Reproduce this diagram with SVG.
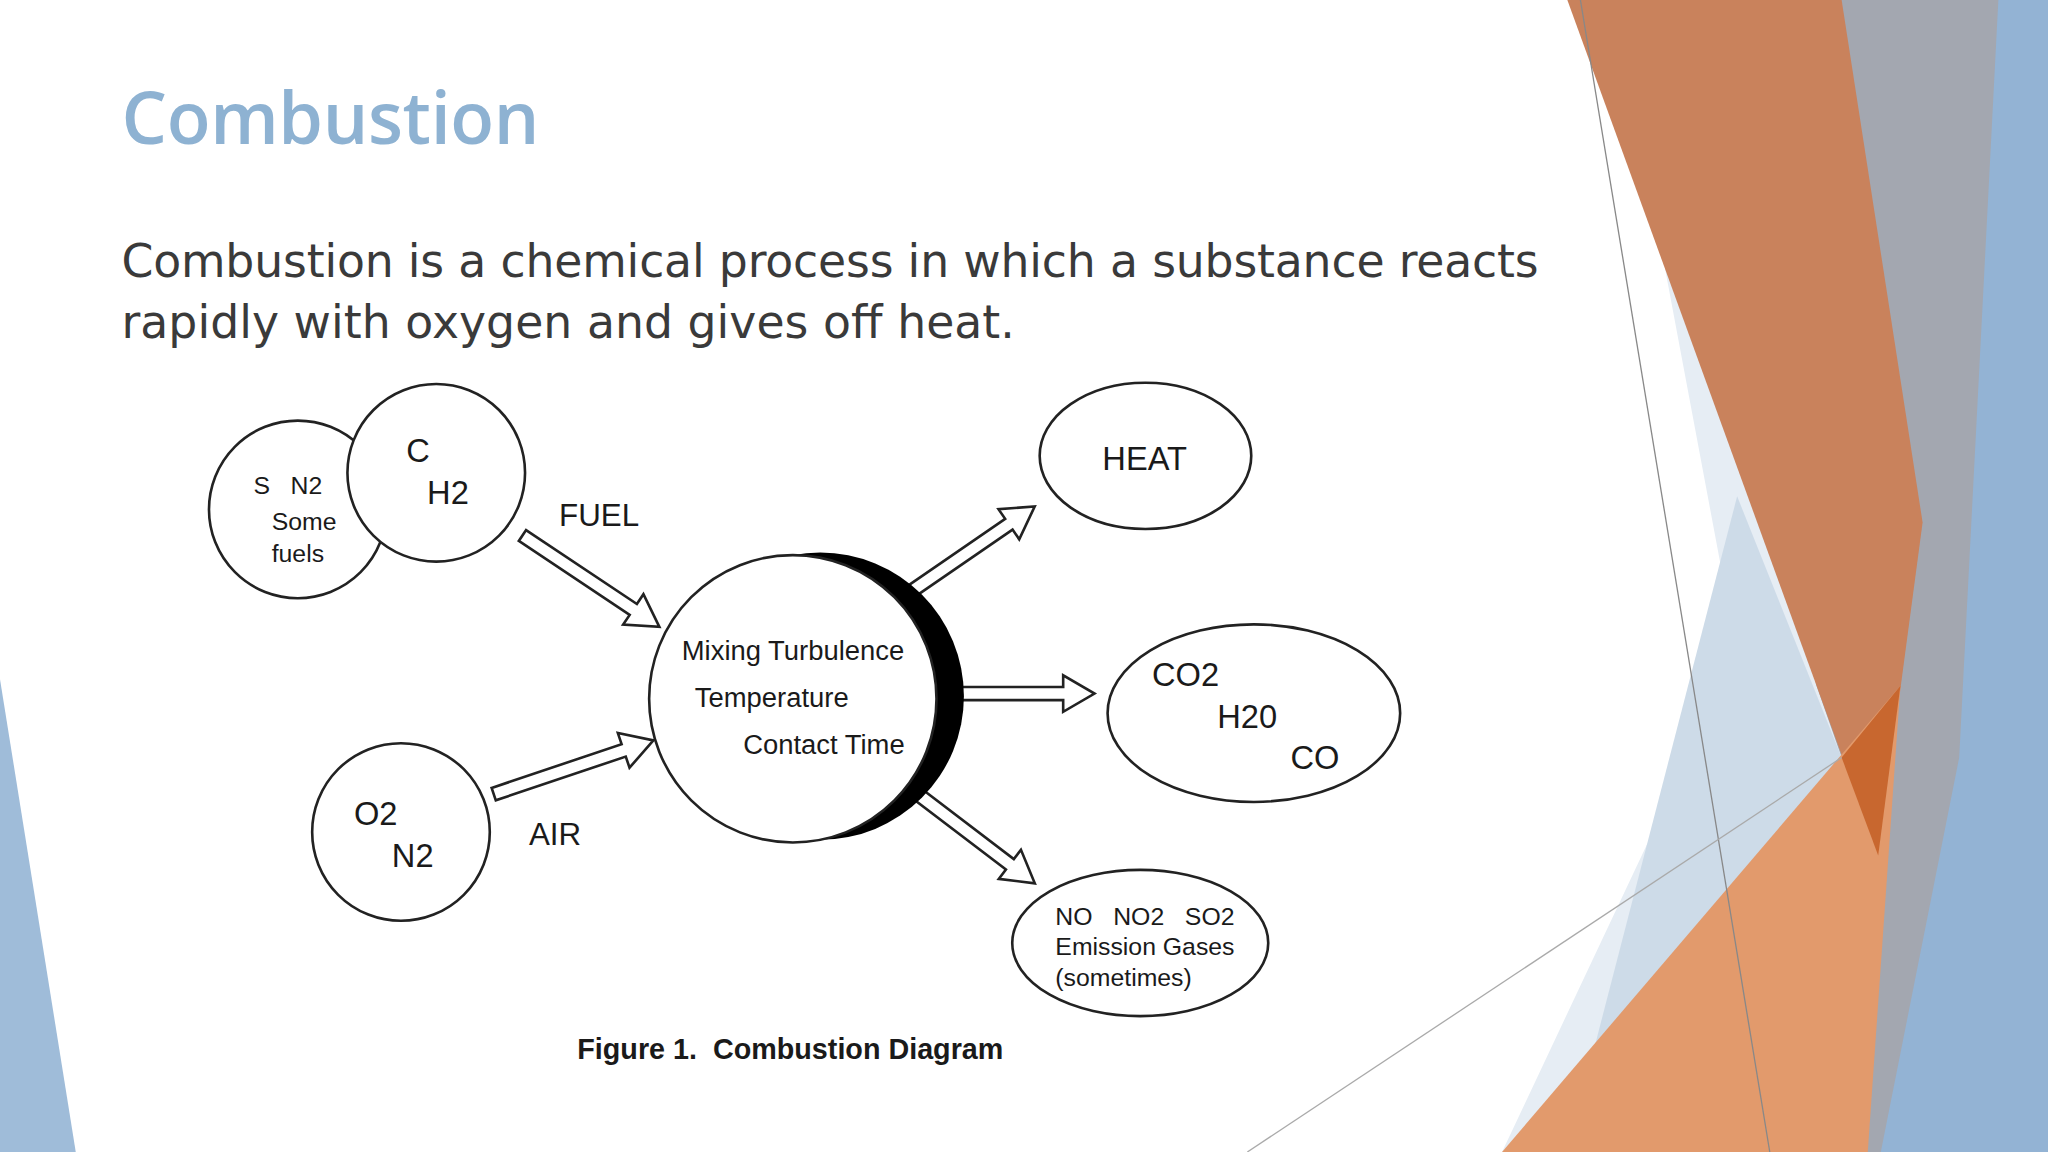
<svg xmlns="http://www.w3.org/2000/svg" width="2048" height="1152" viewBox="0 0 2048 1152">
<style>
.d{font-family:"Liberation Sans",Arial,sans-serif;fill:#1a1a1a}
.n{fill:#fff;stroke:#222;stroke-width:2}
.a{fill:#fff;stroke:#222;stroke-width:2;stroke-linejoin:miter}
</style>
<rect width="2048" height="1152" fill="#fff"/>
<g transform="scale(1.30612)">
<g id="decor">
<polygon points="1405,0 1568,0 1568,882 1380,882" fill="#a3a7b0"/>
<polygon points="1530,0 1568,0 1568,882 1440,882 1500,580" fill="#93b3d4"/>
<polygon points="1270,180 1410,580 1200,882 1150,882 1330,500" fill="#e6edf4"/>
<polygon points="1330,380 1410,580 1240,882 1200,882" fill="#cddbe8"/>
<polygon points="1200,0 1410,0 1472,400 1438,655" fill="#c9825c"/>
<polygon points="1455,525 1430,882 1150,882" fill="#e29a6c"/>
<polygon points="1455,525 1438,655 1410,580" fill="#c8672f"/>
<polygon points="0,520 58,882 0,882" fill="#9fbcd9"/>
<line x1="1210" y1="0" x2="1355" y2="882" stroke="#888" stroke-width="1"/>
<line x1="955" y1="882" x2="1410" y2="580" stroke="#aaa" stroke-width="1"/>
</g>
<text x="93" y="110" font-family="'Open Sans',sans-serif" font-weight="600" font-size="55" fill="#8eb2d2" textLength="320">Combustion</text>
<text font-family="'DejaVu Sans',sans-serif" font-size="35" fill="#3a3a3a"><tspan x="93" y="212" textLength="1085">Combustion is a chemical process in which a substance reacts</tspan><tspan x="93" y="259" textLength="684">rapidly with oxygen and gives off heat.</tspan></text>
<g id="connectors">
<polygon class="a" transform="translate(400,410) rotate(33.7)" points="0,-5 102,-5 102,-14 126,0 102,14 102,5 0,5"/>
<polygon class="a" transform="translate(378,608) rotate(-18.6)" points="0,-5 105,-5 105,-14 129,0 105,14 105,5 0,5"/>
<polygon class="a" transform="translate(690,458) rotate(-34.5)" points="0,-5 100,-5 100,-14 124,0 100,14 100,5 0,5"/>
<polygon class="a" transform="translate(718,531)" points="0,-5 96,-5 96,-14 120,0 96,14 96,5 0,5"/>
<polygon class="a" transform="translate(700,606) rotate(37.3)" points="0,-5 92,-5 92,-14 116,0 92,14 92,5 0,5"/>
</g>
<g id="fuels"><circle class="n" cx="228" cy="390" r="68"/>
<text class="d" font-size="19"><tspan x="194" y="378">S&#160;&#160; N2</tspan><tspan x="208" y="406">Some</tspan><tspan x="208" y="430">fuels</tspan></text></g>
<g id="ch2"><circle class="n" cx="334" cy="362" r="68"/>
<text class="d" font-size="25"><tspan x="311" y="354">C</tspan><tspan x="327" y="386">H2</tspan></text></g>
<text class="d" x="428" y="403" font-size="24">FUEL</text>
<g id="air"><circle class="n" cx="307" cy="637" r="68"/>
<text class="d" font-size="25"><tspan x="271" y="632">O2</tspan><tspan x="300" y="664">N2</tspan></text></g>
<text class="d" x="405" y="647" font-size="24">AIR</text>
<g id="main"><circle cx="628" cy="533" r="110" fill="#000"/>
<circle class="n" cx="607" cy="535" r="110"/>
<text class="d" font-size="21"><tspan x="522" y="505">Mixing Turbulence</tspan><tspan x="532" y="541">Temperature</tspan><tspan x="569" y="577">Contact Time</tspan></text></g>
<g id="heat"><ellipse class="n" cx="877" cy="349" rx="81" ry="56"/>
<text class="d" x="844" y="360" font-size="25">HEAT</text></g>
<g id="products"><ellipse class="n" cx="960" cy="546" rx="112" ry="68"/>
<text class="d" font-size="25"><tspan x="882" y="525">CO2</tspan><tspan x="932" y="557">H20</tspan><tspan x="988" y="589">CO</tspan></text></g>
<g id="emissions"><ellipse class="n" cx="873" cy="722" rx="98" ry="56"/>
<text class="d" font-size="19"><tspan x="808" y="708">NO&#160;&#160; NO2&#160;&#160; SO2</tspan><tspan x="808" y="731">Emission Gases</tspan><tspan x="808" y="755">(sometimes)</tspan></text></g>
<text class="d" x="442" y="811" font-size="22" font-weight="bold">Figure 1.&#160; Combustion Diagram</text>
</g>
</svg>
